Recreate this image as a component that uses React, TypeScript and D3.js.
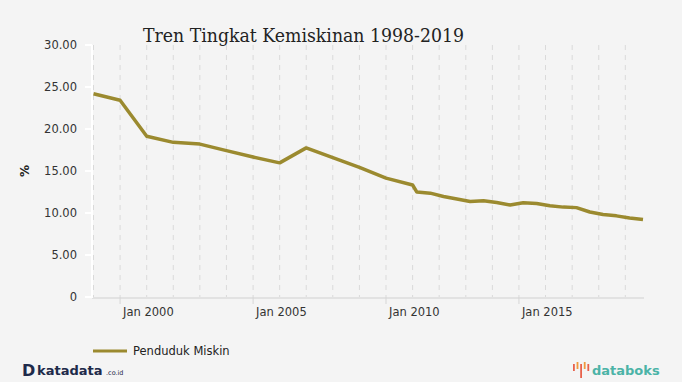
import React from "react";
import * as d3 from "d3";

const annualYears = [1998, 1999, 2000, 2001, 2002, 2003, 2004, 2005, 2006, 2007, 2008, 2009, 2010];
const annualValues = [24.2, 23.43, 19.14, 18.41, 18.2, 17.42, 16.66, 15.97, 17.75, 16.58, 15.42, 14.15, 13.33];
const semiDates = [
  "2011-03", "2011-09", "2012-03", "2012-09", "2013-03", "2013-09", "2014-03", "2014-09",
  "2015-03", "2015-09", "2016-03", "2016-09", "2017-03", "2017-09", "2018-03", "2018-09",
  "2019-03", "2019-09",
];
const semiValues = [12.49, 12.36, 11.96, 11.66, 11.37, 11.47, 11.25, 10.96, 11.22, 11.13, 10.86, 10.7, 10.64, 10.12, 9.82, 9.66, 9.41, 9.22];
const yTicks = [0, 5, 10, 15, 20, 25, 30];
const xLabelYears = [2000, 2005, 2010, 2015];
const seriesName = "Penduduk Miskin";
const title = "Tren Tingkat Kemiskinan 1998-2019";

const W = 682, H = 382;
const LINE = "#9b8a2f";
const FONT = "DejaVu Sans, Verdana, sans-serif";

export default function App() {
  const parse = d3.timeParse("%Y-%m");
  const data: { d: Date; v: number }[] = [
    ...annualYears.map((y, i) => ({ d: new Date(y + 1, 0, 1), v: annualValues[i] })),
    ...semiDates.map((s, i) => ({ d: parse(s) as Date, v: semiValues[i] })),
  ];
  const x = d3.scaleTime().domain([new Date(1999, 0, 1), new Date(2019, 8, 1)]).range([93.5, 643]);
  const y = d3.scaleLinear().domain([0, 30]).range([297, 45]);
  const line = d3.line<{ d: Date; v: number }>().x(p => x(p.d)).y(p => y(p.v));
  const gridYears = d3.range(1999, 2020);

  return (
    <svg width={W} height={H} style={{ position: "absolute", left: 0, top: 0, background: "#f4f4f4" }}>
      <rect width={W} height={H} fill="#f4f4f4" />
      <text x={143} y={42} fontFamily="DejaVu Serif, Liberation Serif, serif" fontSize={19} fill="#222" textLength={321} lengthAdjust="spacingAndGlyphs">{title}</text>
      {gridYears.map(yr => (
        <line key={yr} x1={x(new Date(yr, 0, 1))} x2={x(new Date(yr, 0, 1))} y1={45} y2={297} stroke="#dadada" strokeWidth={1} strokeDasharray="5,5" />
      ))}
      <line x1={92} x2={644} y1={298} y2={298} stroke="#e2e2e2" strokeWidth={2} />
      {xLabelYears.map(yr => {
        const xx = x(new Date(yr, 0, 1));
        return (
          <g key={yr}>
            <line x1={xx} x2={xx} y1={297} y2={304} stroke="#d6d6d6" strokeWidth={1} />
            <text x={xx + 3} y={316} fontFamily={FONT} fontSize={11.5} fill="#333">{`Jan ${yr}`}</text>
          </g>
        );
      })}
      <line x1={92} x2={92} y1={45} y2={298} stroke="#fff" strokeWidth={2} />
      {yTicks.map(t => (
        <g key={t}>
          <line x1={85} x2={92} y1={y(t)} y2={y(t)} stroke="#fff" strokeWidth={2} />
          <text x={77} y={y(t) + 4} textAnchor="end" fontFamily={FONT} fontSize={11.5} fill="#333">{t === 0 ? "0" : t.toFixed(2)}</text>
        </g>
      ))}
      <text transform="translate(29,171) rotate(-90)" textAnchor="middle" fontFamily={FONT} fontSize={12} fontWeight="bold" fill="#222">%</text>
      <path d={line(data) || ""} fill="none" stroke={LINE} strokeWidth={3.5} strokeLinejoin="round" />
      <line x1={93} x2={127} y1={351} y2={351} stroke={LINE} strokeWidth={3} />
      <text x={133} y={355} fontFamily={FONT} fontSize={11.5} fill="#222">{seriesName}</text>
      <g>
        <text x={22} y={376} fontFamily={FONT} fontSize={16} fontWeight="bold" fill="#1e2a4a">D</text>
        <text x={37} y={375} fontFamily={FONT} fontSize={13} fontWeight="bold" fill="#1e2a4a">katadata</text>
        <text x={106} y={375} fontFamily={FONT} fontSize={6.5} fill="#1e2a4a">.co.id</text>
      </g>
      <g>
        {[0, 1, 2, 3, 4].map(i => (
          <rect key={i} x={573 + i * 3.6} y={i % 2 === 0 ? 364 : 362} width={1.8} height={i === 2 ? 14 : 7} fill={i % 2 === 0 ? "#e8614b" : "#f09a3e"} />
        ))}
        <text x={592} y={375} fontFamily={FONT} fontSize={13} fontWeight="bold" fill="#4bb3a7">databoks</text>
      </g>
    </svg>
  );
}
